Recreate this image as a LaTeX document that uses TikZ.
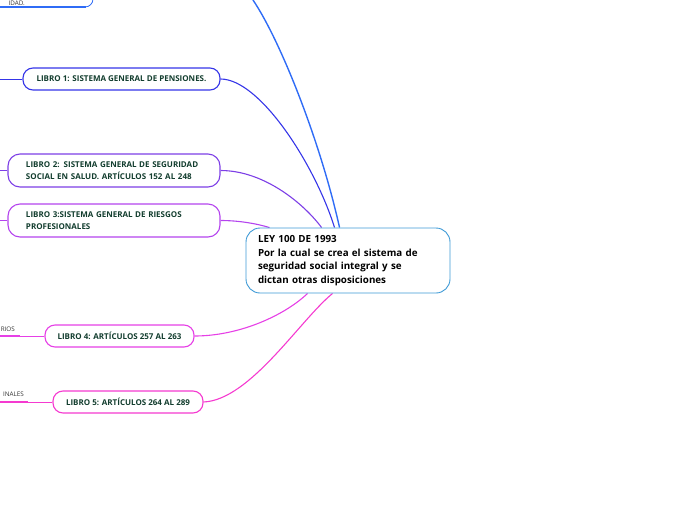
\documentclass[tikz,border=0pt]{standalone}
\usepackage{fontspec}
\setmainfont{Open Sans}
\usetikzlibrary{backgrounds}
\definecolor{c0}{HTML}{2F6CF6}
\definecolor{c1}{HTML}{3535E8}
\definecolor{c2}{HTML}{7D3FE6}
\definecolor{c3}{HTML}{B444EE}
\definecolor{c4}{HTML}{E640E6}
\definecolor{c5}{HTML}{F53AD0}
\definecolor{ccenter}{HTML}{3D9AD6}
\definecolor{txtgreen}{HTML}{123D2E}
\definecolor{txtgray}{HTML}{333333}
\begin{document}
\begin{tikzpicture}[x=1pt,y=-1pt,
  libro/.style={draw, rounded corners=10pt, line width=1.1pt, fill=white,
    font=\fontsize{8}{12}\selectfont\bfseries, text=txtgreen,
    inner xsep=0pt, inner ysep=0pt, minimum height=22pt},
  twoline/.style={minimum height=33pt, text width=176pt, align=left, rounded corners=12pt},
  centernode/.style={draw=ccenter, line width=0.9pt, rounded corners=14pt, fill=white,
    font=\fontsize{9.8}{13.5}\selectfont\bfseries, text=black,
    text width=180pt, align=left, inner xsep=12pt, inner ysep=0pt,
    minimum width=204pt, minimum height=65pt},
  conn/.style={line width=1.1pt},
  stub/.style={line width=0.8pt},
  small/.style={font=\fontsize{6.3}{7}\selectfont, text=txtgray, inner sep=0pt}
]
\useasboundingbox (0,0) rectangle (697,520);
\clip (0,0) rectangle (697,520);

% central node
\node[centernode] (cn) at (348,260.5) {LEY 100 DE 1993\\Por la cual se crea el sistema de\\seguridad social integral y se\\dictan otras disposiciones};

% libros
\node[libro, draw=c1, minimum width=197pt] (l1) at (121.5,79) {LIBRO 1: SISTEMA GENERAL DE PENSIONES.};
\node[libro, twoline, draw=c2, minimum width=212pt] (l2) at (114,170.5) {LIBRO 2: SISTEMA GENERAL DE SEGURIDAD\\SOCIAL EN SALUD. ARTÍCULOS 152 AL 248};
\node[libro, twoline, draw=c3, minimum width=212pt] (l3) at (114,220.5) {LIBRO 3:SISTEMA GENERAL DE RIESGOS\\PROFESIONALES};
\node[libro, draw=c4, minimum width=149pt] (l4) at (119.5,336) {LIBRO 4: ARTÍCULOS 257 AL 263};
\node[libro, draw=c5, minimum width=150pt] (l5) at (128,402) {LIBRO 5: ARTÍCULOS 264 AL 289};

% partial children at the left edge
\node[small, anchor=north east] (t0) at (25,0.6) {IDAD.};
\node[small, anchor=east] (t4) at (15,329) {RIOS};
\node[small, anchor=east] (t5) at (24,394) {INALES};

\coordinate (s1) at (0,79);
\coordinate (s2) at (0,170.5);
\coordinate (s3) at (0,220.5);
\coordinate (s4) at (0,336);
\coordinate (u4) at (20,336);
\coordinate (s5) at (0,402);
\coordinate (u5) at (28,402);
\coordinate (top) at (253,0);

% top-left partial box
\draw[c0, line width=0.8pt, rounded corners=8pt] (-20,-20) rectangle (93,7);
\draw[c0, line width=1.6pt] (0,7) -- (86,7);

\begin{scope}[on background layer]
\draw[c0, line width=1.4pt] (top) .. controls (280,40) and (320,140) .. ([xshift=94pt]cn.north west);
\draw[c1, conn] (l1.east) .. controls (260,79) and (315,165) .. ([xshift=89pt]cn.north west);
\draw[c2, conn] (l2.east) .. controls (265,170.5) and (305,205) .. ([xshift=76pt]cn.north west);
\draw[c3, conn] (l3.east) .. controls (240,220.5) and (258,224) .. ([xshift=24pt]cn.north west);
\draw[c4, conn] (l4.east) .. controls (240,336) and (285,315) .. ([xshift=62pt]cn.south west);
\draw[c5, conn] (l5.east) .. controls (250,400) and (300,320) .. ([xshift=87pt]cn.south west);
\draw[c1, stub] (l1.west) -- (s1);
\draw[c2, stub] (l2.west) -- (s2);
\draw[c3, stub] (l3.west) -- (s3);
\draw[c4, stub] (l4.west) -- (u4);
\draw[c4, line width=1.8pt] (u4) -- (s4);
\draw[c5, stub] (l5.west) -- (u5);
\draw[c5, line width=1.8pt] (u5) -- (s5);
\end{scope}
\end{tikzpicture}
\end{document}
